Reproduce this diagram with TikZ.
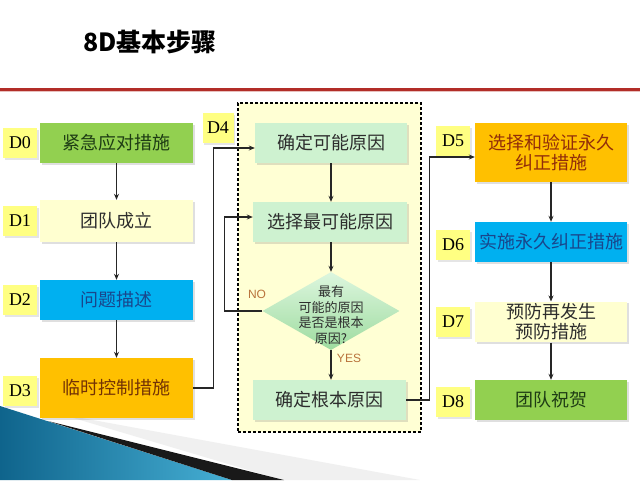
\documentclass[tikz,border=0pt]{standalone}
\usepackage{fontspec}
\setmainfont{Liberation Serif}
\newfontfamily\cjk{Noto Sans CJK SC}
\newfontfamily\lsans{Liberation Sans}
\usetikzlibrary{arrows.meta,shapes.geometric,shadows,calc}
\definecolor{gbox}{RGB}{146,208,80}
\definecolor{ybox}{RGB}{255,255,208}
\definecolor{bbox}{RGB}{0,176,240}
\definecolor{obox}{RGB}{255,192,0}
\definecolor{mbox}{RGB}{206,242,208}
\definecolor{labyel}{RGB}{255,255,130}
\definecolor{grpfill}{RGB}{255,255,212}
\definecolor{redline}{RGB}{178,45,40}
\definecolor{tgreen}{RGB}{30,60,20}
\definecolor{tdark}{RGB}{45,45,45}
\definecolor{tblue}{RGB}{25,70,140}
\definecolor{tbrown}{RGB}{115,50,5}
\definecolor{tred}{RGB}{145,45,10}
\definecolor{noyes}{RGB}{185,115,60}
\definecolor{blueA}{RGB}{15,100,140}
\definecolor{blueB}{RGB}{70,175,212}
\tikzset{
  box/.style={minimum width=153pt, minimum height=40pt, inner sep=2pt, align=center,
    font=\cjk\fontsize{18}{20}\selectfont,
    drop shadow={opacity=0.25, shadow xshift=1.5pt, shadow yshift=-1.5pt}},
  lab/.style={fill=labyel, minimum width=34pt, minimum height=30pt, inner sep=0pt,
    font=\fontsize{18}{18}\selectfont,
    drop shadow={opacity=0.2, shadow xshift=1.5pt, shadow yshift=-1.5pt}},
  arr/.style={draw=black!85, line width=1.4pt, -{Stealth[length=6pt,width=5pt]}},
  lbl/.style={font=\lsans\fontsize{12}{12}\selectfont, text=noyes}
}
\begin{document}
\begin{tikzpicture}[x=1pt,y=-1pt]
\useasboundingbox (0,0) rectangle (640,480);
\fill[white] (0,0) rectangle (640,480);
% bottom decoration
\fill[gray!12] (60,414) -- (420,480) -- (282,480) -- cycle;
\shade[left color=blueA, right color=blueB] (0,406) -- (232,480) -- (0,480) -- cycle;
\fill[black!90] (48,421) -- (284,480) -- (232,480) -- cycle;
% title and rule
\node[anchor=west, font=\cjk\bfseries\fontsize{25}{25}\selectfont, inner sep=0pt] (title) at (83,42) {8D基本步骤};
\draw[line width=2pt, redline!30] (0,91) -- (640,91);
\draw[line width=3pt, redline] (0,89) -- (640,89);
% group box
\node[draw=black, dashed, dash pattern=on 3pt off 2pt, line width=1.2pt, fill=grpfill,
      minimum width=183pt, minimum height=329pt, inner sep=0pt] (grp) at (329.5,267.5) {};
% left column
\node[box, fill=gbox, text=tgreen] (d0) at (116.5,143) {紧急应对措施};
\node[box, fill=ybox, text=tdark, minimum height=42pt] (d1) at (116.5,221) {团队成立};
\node[box, fill=bbox, text=tblue] (d2) at (116.5,300) {问题描述};
\node[box, fill=obox, text=tbrown, minimum height=60pt] (d3) at (116.5,388) {临时控制措施};
% middle column
\node[box, fill=mbox, text=tdark, minimum width=152pt] (p1) at (331,143) {确定可能原因};
\node[box, fill=mbox, text=tdark, minimum width=154pt] (p2) at (330,222) {选择最可能原因};
\node[diamond, aspect=1.756, minimum width=137pt, minimum height=78pt, inner sep=0pt,
      top color=mbox!70!white, bottom color=mbox!85!green!90!black, draw=none] (dia) at (331,311) {};
\node[align=center, font=\cjk\fontsize{13}{15.5}\selectfont, text=tdark, inner sep=0pt] (diat) at (331,315) {最有\\可能的原因\\是否是根本\\原因?};
\node[box, fill=mbox, text=tdark] (root) at (329.5,400) {确定根本原因};
% right column
\node[box, fill=obox, text=tred, minimum width=152pt, minimum height=59pt] (d5) at (551,152.5) {选择和验证永久\\纠正措施};
\node[box, fill=bbox, text=tblue, minimum width=152pt] (d6) at (551,242) {实施永久纠正措施};
\node[box, fill=ybox, text=tdark, minimum width=152pt] (d7) at (551,322) {预防再发生\\预防措施};
\node[box, fill=gbox, text=tgreen, minimum width=152pt] (d8) at (551,400) {团队祝贺};
% labels
\node[lab] (l0) at (20,143) {D0};
\node[lab] (l1) at (20,221) {D1};
\node[lab] (l2) at (20,300) {D2};
\node[lab] (l3) at (20,391) {D3};
\node[lab, minimum width=31pt] (l4) at (218,128) {D4};
\node[lab] (l5) at (453,141) {D5};
\node[lab] (l6) at (453,245) {D6};
\node[lab] (l7) at (453,322) {D7};
\node[lab] (l8) at (453,402) {D8};
\node[lbl] (no) at (257,294) {NO};
\node[lbl] (yes) at (349,358) {YES};
% connectors
\draw[arr] (d0.south) -- (d1.north);
\draw[arr] (d1.south) -- (d2.north);
\draw[arr] (d2.south) -- (d3.north);
\draw[arr] (d3.east) -- ++(20,0) |- ([yshift=-5pt]p1.west);
\draw[arr] (p1.south) -- (p1.south |- p2.north);
\draw[arr] (p2.south -| dia.north) -- (dia.north);
\draw[arr] (dia.south) -- (dia.south |- root.north);
\draw[arr] (dia.west) -- ++(-38,0) |- ([yshift=5pt]p2.west);
\draw[arr] (root.east) -- ++(23,0) |- ([yshift=-4.5pt]d5.west);
\draw[arr] (d5.south) -- (d6.north);
\draw[arr] (d6.south) -- (d7.north);
\draw[arr] (d7.south) -- (d8.north);
\end{tikzpicture}
\end{document}
